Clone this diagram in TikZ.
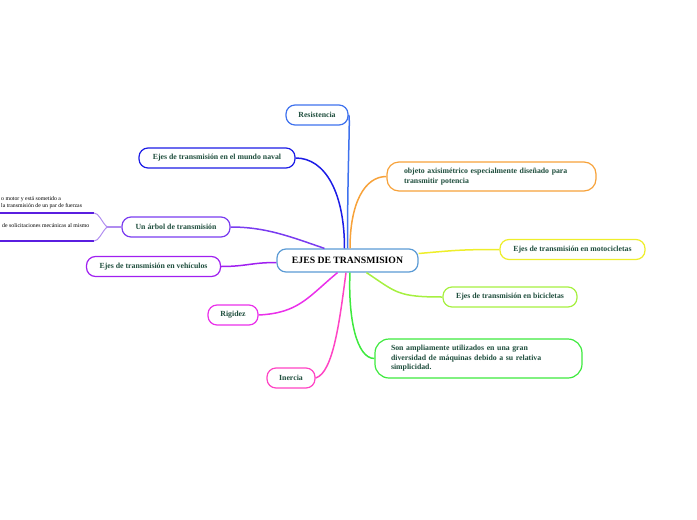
\documentclass[tikz,border=0pt]{standalone}
\usepackage{fontspec}
\setmainfont{Liberation Serif}
\usetikzlibrary{positioning}
\definecolor{txt}{HTML}{1F4E3D}
\definecolor{rootc}{HTML}{5B9BD5}
\definecolor{resc}{HTML}{3F72EE}
\definecolor{navc}{HTML}{1C1CE6}
\definecolor{objc}{HTML}{F7A23A}
\definecolor{motc}{HTML}{EEEE2A}
\definecolor{bicc}{HTML}{A6F040}
\definecolor{sonc}{HTML}{3EEA3E}
\definecolor{inec}{HTML}{FF44C4}
\definecolor{rigc}{HTML}{EA30EA}
\definecolor{vehc}{HTML}{A020F0}
\definecolor{arbc}{HTML}{7A3CF0}
\definecolor{subc}{HTML}{5A1EE0}
\definecolor{subl}{HTML}{B08CF0}
\tikzset{x=1pt, y=-1pt,
    topic/.style={draw, rounded corners=9pt, line width=1.2pt, fill=white,
        minimum height=20pt, inner sep=2pt, text=txt,
        font=\fontsize{7.8}{9.4}\selectfont\bfseries},
    root/.style={draw=rootc, rounded corners=9pt, line width=1.2pt, fill=white,
        minimum width=141pt, minimum height=23pt,
        font=\fontsize{9.7}{11}\selectfont\bfseries},
    link/.style={line width=1.5pt},
    textnode/.style={font=\fontsize{5.8}{7.2}\selectfont, anchor=west,
        inner sep=0pt, align=left}}
\begin{document}
\begin{tikzpicture}
\useasboundingbox (0,0) rectangle (697,520);
\node[root] (ejes) at (347.5,260.5) {EJES DE TRANSMISION};

\node[topic, draw=resc, minimum width=62pt] (res) at (317,115) {Resistencia};
\node[topic, draw=navc, minimum width=156pt] (naval) at (217,158) {Ejes de transmisión en el mundo naval};
\node[topic, draw=objc, minimum height=29pt, text width=175pt, inner xsep=17pt, align=left, rounded corners=12pt] (obj) at (491.5,176.5)
    {objeto axisimétrico especialmente diseñado para\\transmitir potencia};
\node[topic, draw=motc, minimum width=145pt] (moto) at (572.5,249.5) {Ejes de transmisión en motocicletas};
\node[topic, draw=bicc, minimum width=134pt] (bici) at (510,297) {Ejes de transmisión en bicicletas};
\node[topic, draw=sonc, minimum height=39pt, text width=175pt, inner xsep=16pt, align=left, rounded corners=14pt] (son) at (478.5,358.5)
    {Son ampliamente utilizados en una gran\\diversidad de máquinas debido a su relativa\\simplicidad.};
\node[topic, draw=inec, minimum width=48pt] (inercia) at (291,378) {Inercia};
\node[topic, draw=rigc, minimum width=50pt] (rigidez) at (233,315) {Rigidez};
\node[topic, draw=vehc, minimum width=134pt] (vehic) at (153.5,266.5) {Ejes de transmisión en vehículos};
\node[topic, draw=arbc, minimum width=108pt] (arbol) at (176,227) {Un árbol de transmisión};

% sub topic of the arbol, cut at the left border
\coordinate (tip) at (107,227);
\draw[subc, line width=1.3pt] (-5,213) -- (94,213);
\draw[subc, line width=1.3pt] (-5,241) -- (94,241);
\draw[subl, line width=1pt] (94,213) .. controls (99,213) and (101,221) .. (tip)
    .. controls (101,233) and (99,241) .. (94,241);
\node[textnode] (s1) at (1,202.5) {o motor y está sometido a\\la transmisión de un par de fuerzas};
\node[textnode] (s2) at (2,226) {de solicitaciones mecánicas al mismo};
\draw[subl, link] (arbol.west) -- (tip);

% branches
\draw[resc, link] (res.east) .. controls +(2,0) and +(0,-90) .. (ejes.north);
\draw[navc, link] (naval.east) .. controls +(30,0) and +(0,-55) .. ([xshift=-3pt]ejes.north);
\draw[objc, link] (obj.west) .. controls +(-22,0) and +(0,-45) .. ([xshift=2.5pt]ejes.north);
\draw[arbc, link] (arbol.east) .. controls +(35,0) and +(-35,-12) .. ([xshift=-23pt]ejes.north);
\draw[motc, link] (moto.west) .. controls +(-40,0) and +(35,-3) .. ([yshift=7pt]ejes.east);
\draw[vehc, link] (vehic.east) .. controls +(25,0) and +(-25,0) .. ([yshift=-2pt]ejes.west);
\draw[rigc, link] (rigidez.east) .. controls +(40,-2) and +(-30,25) .. ([xshift=-10pt]ejes.south);
\draw[inec, link] (inercia.east) .. controls +(18,-5) and +(-6,45) .. ([xshift=-1.5pt]ejes.south);
\draw[sonc, link] (son.west) .. controls +(-18,0) and +(-2,45) .. ([xshift=2.5pt]ejes.south);
\draw[bicc, link] (bici.west) .. controls +(-45,0) and +(30,20) .. ([xshift=19pt]ejes.south);
\end{tikzpicture}
\end{document}
